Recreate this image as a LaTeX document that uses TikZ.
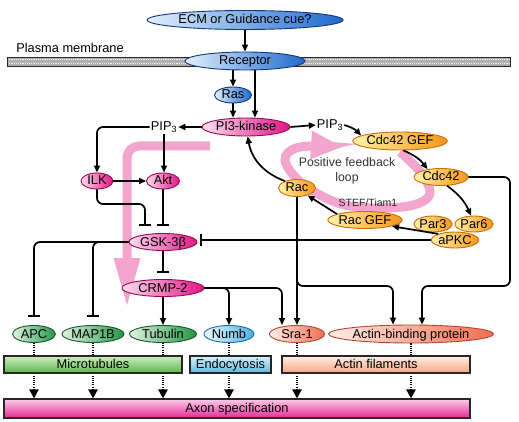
\documentclass[tikz,border=0pt]{standalone}
\usepackage{fontspec}
\setmainfont{Liberation Sans}
\usetikzlibrary{shapes.geometric,arrows.meta,calc}
\definecolor{blueL}{RGB}{225,240,252}
\definecolor{blueD}{RGB}{30,105,205}
\definecolor{blueB}{RGB}{20,55,130}
\definecolor{magL}{RGB}{252,222,238}
\definecolor{magD}{RGB}{225,20,135}
\definecolor{magB}{RGB}{150,10,80}
\definecolor{oraL}{RGB}{255,242,170}
\definecolor{oraD}{RGB}{245,150,25}
\definecolor{oraB}{RGB}{200,110,10}
\definecolor{grnL}{RGB}{225,242,225}
\definecolor{grnD}{RGB}{35,150,70}
\definecolor{grnB}{RGB}{20,90,40}
\definecolor{cyaL}{RGB}{240,250,255}
\definecolor{cyaD}{RGB}{70,175,225}
\definecolor{cyaB}{RGB}{30,110,160}
\definecolor{salL}{RGB}{255,238,230}
\definecolor{salD}{RGB}{240,110,80}
\definecolor{salB}{RGB}{180,70,50}
\definecolor{mtT}{RGB}{205,238,190}
\definecolor{mtB}{RGB}{90,180,75}
\definecolor{enT}{RGB}{215,240,252}
\definecolor{enB}{RGB}{95,185,225}
\definecolor{acT}{RGB}{255,238,228}
\definecolor{acB}{RGB}{245,165,130}
\definecolor{axT}{RGB}{252,205,232}
\definecolor{axB}{RGB}{228,40,150}
\definecolor{pinkC}{RGB}{243,165,205}
\tikzset{
  base/.style={ellipse, inner sep=0pt, line width=0.9pt, text=black, text height=9pt, text depth=1pt},
  blueN/.style={base, draw=blueB, left color=blueL, right color=blueD},
  magN/.style={base, draw=magB, left color=magL, right color=magD},
  oraN/.style={base, draw=oraB, left color=oraL, right color=oraD},
  grnN/.style={base, draw=grnB, left color=grnL, right color=grnD},
  cyaN/.style={base, draw=cyaB, left color=cyaL, right color=cyaD},
  salN/.style={base, draw=salB, left color=salL, right color=salD},
  boxN/.style={rectangle, inner sep=0pt, draw=black!85, line width=1.1pt, text height=9pt, text depth=1pt},
  plainT/.style={inner sep=1pt, text=black},
  ln/.style={line width=1.7pt, black},
  act/.style={ln, -{Triangle[length=7pt,width=6pt]}},
  inh/.style={ln, -{Bar[width=12pt]}},
  dotln/.style={black, line width=2.8pt, dash pattern=on 1.1pt off 1.1pt},
  dotarr/.style={dotln, -{Triangle[length=9pt,width=9pt]}},
  pinkA/.style={pinkC, line width=9pt},
}
\begin{document}
\begin{tikzpicture}[x=1pt,y=-1pt, font=\fontsize{12.8}{15}\selectfont]
\useasboundingbox (0,0) rectangle (519,422);
\fill[white] (0,0) rectangle (519,422);

% pink background arrows
\draw[pinkA, rounded corners=12pt, -{Triangle[length=50pt,width=24pt]}] (210,146) -- (127,146) -- (127,308);
\draw[pinkA, -{Triangle[length=32pt,width=26pt]}] plot[smooth, tension=0.6] coordinates {(400,152) (422,174) (429,196) (402,207) (345,205) (303,184) (285,160) (300,147) (343,147)};

% membrane
\fill[gray!60] (7,57) rectangle (510,66);
\draw[gray!15, line width=1.2pt, dash pattern=on 1.2pt off 1pt] (7,59.5) -- (510,59.5) (7,63.5) -- (510,63.5);
\draw[gray!30!black, line width=0.4pt] (7,57) rectangle (510,66);
\node[plainT] (pm) at (70,48) {Plasma membrane};

% nodes
\node[blueN, minimum width=196pt, minimum height=19pt] (ecm) at (245,20) {ECM or Guidance cue?};
\node[blueN, minimum width=120pt, minimum height=18pt] (rec) at (245,61) {Receptor};
\node[blueN, minimum width=37pt, minimum height=16pt] (ras) at (233,95) {Ras};
\node[magN, minimum width=88pt, minimum height=18pt] (pi3) at (246,127) {PI3-kinase};
\node[plainT] (pipL) at (164,127) {PIP\textsubscript{3}};
\node[plainT] (pipR) at (330,125) {PIP\textsubscript{3}};
\node[oraN, minimum width=94pt, minimum height=18pt] (cgef) at (400,141) {Cdc42 GEF};
\node[oraN, minimum width=54pt, minimum height=17pt] (cdc) at (441,177) {Cdc42};
\node[plainT, text=black!80, align=center, font=\fontsize{12.3}{15}\selectfont] (pfl) at (347,171) {Positive feedback\\loop};
\node[oraN, minimum width=37pt, minimum height=17pt] (rac) at (297,188) {Rac};
\node[plainT, text=black!85, font=\fontsize{10.5}{12}\selectfont] (stef) at (368,203) {STEF/Tiam1};
\node[oraN, minimum width=74pt, minimum height=17pt] (racgef) at (365,220) {Rac GEF};
\node[oraN, minimum width=38pt, minimum height=16pt] (par3) at (433,224) {Par3};
\node[oraN, minimum width=38pt, minimum height=16pt] (par6) at (474,224) {Par6};
\node[oraN, minimum width=46pt, minimum height=16pt] (apkc) at (455,240) {aPKC};
\node[magN, minimum width=32pt, minimum height=16pt] (ilk) at (97,181) {ILK};
\node[magN, minimum width=33pt, minimum height=16pt] (akt) at (163,181) {Akt};
\node[magN, minimum width=68pt, minimum height=17pt] (gsk) at (163,242) {GSK-3β};
\node[magN, minimum width=82pt, minimum height=17pt] (crmp) at (163,288) {CRMP-2};
\node[grnN, minimum width=43pt, minimum height=17pt] (apc) at (34,334) {APC};
\node[grnN, minimum width=62pt, minimum height=17pt] (map) at (93,334) {MAP1B};
\node[grnN, minimum width=67pt, minimum height=17pt] (tub) at (163,334) {Tubulin};
\node[cyaN, minimum width=50pt, minimum height=17pt] (numb) at (229,334) {Numb};
\node[salN, minimum width=55pt, minimum height=17pt] (sra) at (297,334) {Sra-1};
\node[salN, minimum width=157pt, minimum height=18pt] (abp) at (411,334) {Actin-binding protein};

\node[boxN, top color=mtT, bottom color=mtB, minimum width=178pt, minimum height=17pt] (micro) at (93,364.5) {Microtubules};
\node[boxN, top color=enT, bottom color=enB, minimum width=81pt, minimum height=17pt] (endo) at (230.5,364.5) {Endocytosis};
\node[boxN, top color=acT, bottom color=acB, minimum width=188pt, minimum height=17pt] (actin) at (376,364.5) {Actin filaments};
\node[boxN, top color=axT, bottom color=axB, minimum width=466pt, minimum height=19pt] (axon) at (237,408.5) {Axon specification};

% connectors
\coordinate (ilkc) at (145,204);
\coordinate (jr) at (350,286);
\coordinate (rc) at (510,286);

\draw[act] (ecm.south) -- (rec.north);
\draw[act] (ras.north |- rec.south) -- (ras.north);
\draw[act] ([xshift=10pt]rec.south) -- ([xshift=10pt]rec.south |- pi3.north);
\draw[act] (ras.south) -- (ras.south |- pi3.north);
\draw[act] (pi3.west) -- (pipL.east);
\draw[act] (pi3.east) -- (pipR.west);
\draw[act] (pipR.east) to[bend left=15] (cgef.172);
\draw[act] (cgef.-70) to[bend left=15] (cdc.150);
\draw[act] (cdc.-55) to[bend left=15] (par6.110);
\draw[act] (apkc.160) -- (racgef.-13);
\draw[act] (racgef.168) -- (rac.-35);
\draw[act] (rac.150) to[bend left=30] (pi3.-80);
\draw[act, rounded corners=6pt] (pipL.west) -| (ilk.north);
\draw[act] (pipL.south) -- (pipL.south |- akt.north);
\draw[act] (ilk.east) -- (akt.west);
\draw[inh, rounded corners=6pt, shorten >=7pt] (ilk.south) |- (ilkc) -- (ilkc |- gsk.north);
\draw[inh, shorten >=7pt] (akt.south) -- (akt.south |- gsk.north);
\draw[inh, shorten >=3pt] (apkc.west) -- (apkc.west -| gsk.east);
\draw[inh, rounded corners=6pt, shorten >=8pt] (gsk.west) -| (apc.north);
\draw[inh, rounded corners=6pt, shorten >=8pt] (gsk.west) -| (map.north);
\draw[inh, shorten >=6pt] (gsk.south) -- (crmp.north);
\draw[act] (crmp.south) -- (tub.north);
\draw[act, rounded corners=6pt] (crmp.east) -| (numb.north);
\draw[act, rounded corners=6pt] (crmp.east) -| ([xshift=-15pt]sra.north);
\draw[act] (rac.south) -- (sra.north);
\draw[act, rounded corners=6pt] (rac.south) |- (jr) -| ([xshift=-18pt]abp.north);
\draw[act, rounded corners=6pt] (cdc.east) -| (rc) -| ([xshift=11pt]abp.north);

% dotted links to boxes
\foreach \p/\b in {apc/micro, map/micro, tub/micro, numb/endo, sra/actin, abp/actin} {
  \draw[dotln] (\p.south) -- (\p.south |- \b.north);
  \draw[dotarr, shorten <=2pt] (\p.south |- \b.south) -- (\p.south |- axon.north);
}
\end{tikzpicture}
\end{document}
